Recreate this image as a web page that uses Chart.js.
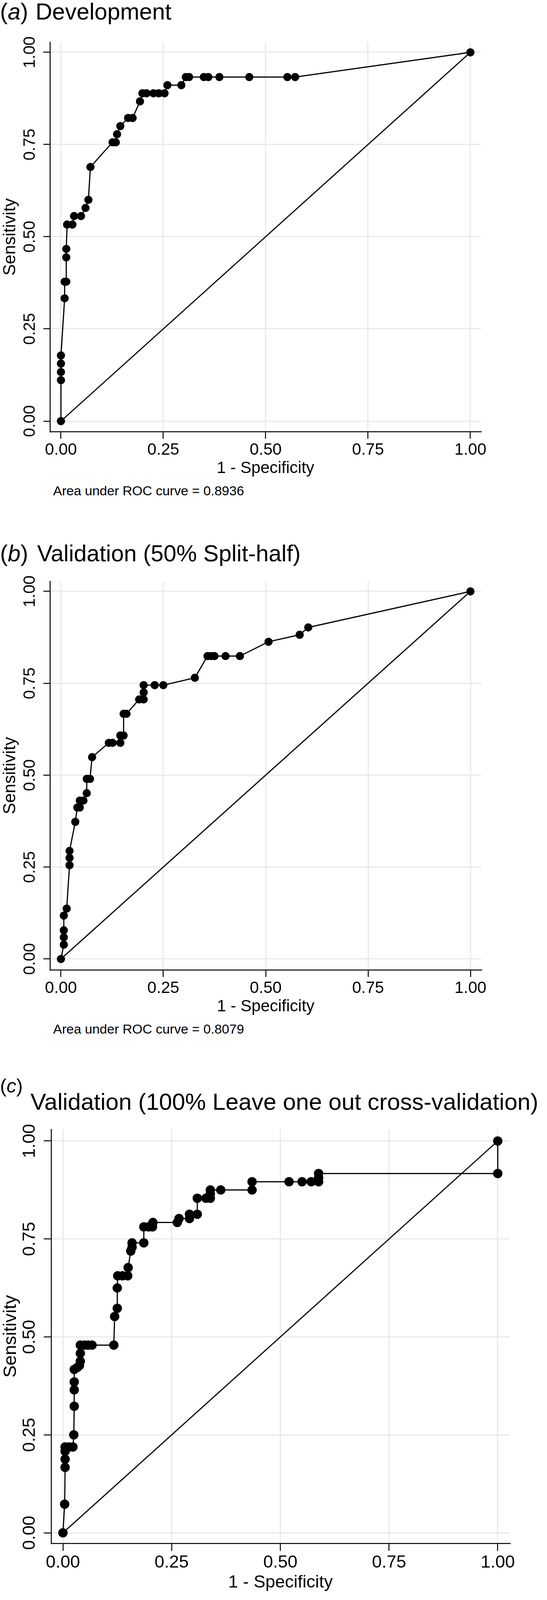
<!DOCTYPE html>
<html lang="en">
<head>
    <meta charset="UTF-8">
    <title>ROC curves</title>
    <script src="https://cdn.jsdelivr.net/npm/chart.js@4.4.1/dist/chart.umd.min.js"></script>
    <style>
        body { margin: 0; width: 1400px; height: 4170px; position: relative; background: #fff; }
        .txt { position: absolute; font-family: "Liberation Sans", Arial, Helvetica, sans-serif; color: #000; line-height: 1; white-space: nowrap; }
        canvas { position: absolute; left: 0; }
    </style>
</head>
<body>
    <!-- panel titles and AUC notes -->
    <div class="txt" style="left:0px; top:1px; font-size:59px;">(<i>a</i>)</div>
    <div class="txt" style="left:91px; top:1px; font-size:59px;">Development</div>
    <div class="txt" style="left:136px; top:1239px; font-size:34px;">Area under ROC curve = 0.8936</div>

    <div class="txt" style="left:0px; top:1388px; font-size:59px;">(<i>b</i>)</div>
    <div class="txt" style="left:95px; top:1388px; font-size:59px;">Validation (50% Split-half)</div>
    <div class="txt" style="left:136px; top:2617px; font-size:34px;">Area under ROC curve = 0.8079</div>

    <div class="txt" style="left:0px; top:2755px; font-size:50px;">(<i>c</i>)</div>
    <div class="txt" style="left:78px; top:2791px; font-size:60px;">Validation (100% Leave one out cross-validation)</div>
    <div class="txt" style="left:138px; top:4096px; font-size:37px;">Area under ROC curve = 0.8158</div>

    <canvas id="rocA"></canvas>
    <canvas id="rocB"></canvas>
    <canvas id="rocC"></canvas>

    <script>
        // axis ticks shared by all panels
        const tickVals = [0, 0.25, 0.5, 0.75, 1];
        const xTitle = '1 - Specificity';
        const yTitle = 'Sensitivity';

        // reference (chance) line
        const refX = [0, 1];
        const refY = [0, 1];

        // (a) Development
        const aFpr = [0, 0, 0, 0, 0, 0.009, 0.009, 0.013, 0.013, 0.013, 0.015, 0.028, 0.032, 0.049, 0.060, 0.067, 0.072,
            0.126, 0.134, 0.137, 0.145, 0.164, 0.175, 0.193, 0.199, 0.209, 0.226, 0.239, 0.253, 0.260, 0.294,
            0.305, 0.313, 0.349, 0.360, 0.387, 0.460, 0.553, 0.572, 1];
        const aSens = [0, 0.111, 0.133, 0.156, 0.178, 0.333, 0.378, 0.378, 0.444, 0.467, 0.533, 0.533, 0.556, 0.556, 0.578, 0.600, 0.689,
            0.756, 0.756, 0.778, 0.800, 0.822, 0.822, 0.867, 0.889, 0.889, 0.889, 0.889, 0.889, 0.911, 0.911,
            0.933, 0.933, 0.933, 0.933, 0.933, 0.933, 0.933, 0.933, 1];

        // (b) Validation (50% split-half)
        const bFpr = [0, 0.007, 0.007, 0.007, 0.007, 0.014, 0.021, 0.021, 0.021, 0.035, 0.040, 0.046, 0.046, 0.055,
            0.063, 0.063, 0.071, 0.076, 0.117, 0.126, 0.145, 0.145, 0.153, 0.153, 0.160, 0.191, 0.202, 0.202, 0.202,
            0.229, 0.250, 0.327, 0.358, 0.367, 0.375, 0.402, 0.437, 0.507, 0.583, 0.604, 1];
        const bSens = [0, 0.039, 0.059, 0.078, 0.118, 0.137, 0.255, 0.275, 0.294, 0.373, 0.412, 0.412, 0.431, 0.431,
            0.451, 0.490, 0.490, 0.549, 0.588, 0.588, 0.588, 0.608, 0.608, 0.667, 0.667, 0.706, 0.706, 0.725, 0.745,
            0.745, 0.745, 0.765, 0.824, 0.824, 0.824, 0.824, 0.824, 0.863, 0.882, 0.902, 1];

        // (c) Validation (leave one out)
        const cFpr = [0, 0.004, 0.005, 0.005, 0.005, 0.005, 0.014, 0.023, 0.025, 0.026, 0.026, 0.026, 0.026, 0.033, 0.038,
            0.040, 0.040, 0.040, 0.050, 0.058, 0.067, 0.117, 0.119, 0.125, 0.125, 0.126, 0.137, 0.149, 0.150, 0.156,
            0.159, 0.159, 0.186, 0.186, 0.197, 0.206, 0.207, 0.263, 0.267, 0.291, 0.291, 0.309, 0.309, 0.329,
            0.339, 0.339, 0.339, 0.363, 0.435, 0.435, 0.520, 0.550, 0.571, 0.588, 0.588, 0.588, 1, 1];
        const cSens = [0, 0.073, 0.167, 0.188, 0.208, 0.219, 0.219, 0.219, 0.250, 0.323, 0.365, 0.385, 0.417, 0.422, 0.427,
            0.438, 0.458, 0.479, 0.479, 0.479, 0.479, 0.479, 0.552, 0.573, 0.625, 0.656, 0.656, 0.656, 0.677, 0.719,
            0.729, 0.740, 0.740, 0.781, 0.781, 0.781, 0.792, 0.792, 0.802, 0.802, 0.813, 0.813, 0.854, 0.854,
            0.854, 0.865, 0.875, 0.875, 0.875, 0.896, 0.896, 0.896, 0.896, 0.896, 0.906, 0.917, 0.917, 1];

        const FONT = '"Liberation Sans", Arial, Helvetica, sans-serif';
        const GRID = '#e9e9e9';

        function toPoints(xs, ys) {
            return xs.map((x, i) => ({ x: x, y: ys[i] }));
        }

        // one Stata-like ROC plot per canvas
        function makePanel(id, fpr, sens, cfg) {
            const cv = document.getElementById(id);
            cv.width = 1400;
            cv.height = cfg.h;
            cv.style.top = cfg.top + 'px';
            cv.style.width = '1400px';
            cv.style.height = cfg.h + 'px';

            const labelFmt = v => Number(v).toFixed(2);

            return new Chart(cv.getContext('2d'), {
                type: 'scatter',
                data: {
                    datasets: [{
                        data: toPoints(fpr, sens),
                        showLine: true,
                        borderColor: '#000',
                        borderWidth: 3,
                        backgroundColor: '#000',
                        pointBackgroundColor: '#000',
                        pointBorderWidth: 0,
                        pointRadius: cfg.r,
                        pointHoverRadius: cfg.r
                    },
                    {
                        data: toPoints(refX, refY),
                        showLine: true,
                        borderColor: '#000',
                        borderWidth: 3,
                        pointRadius: 0,
                        pointHoverRadius: 0
                    }]
                },
                options: {
                    responsive: false,
                    animation: false,
                    devicePixelRatio: 1,
                    layout: { padding: cfg.pad },
                    plugins: {
                        legend: { display: false },
                        tooltip: { enabled: false }
                    },
                    scales: {
                        x: {
                            type: 'linear',
                            min: cfg.xr[0],
                            max: cfg.xr[1],
                            afterBuildTicks: s => { s.ticks = tickVals.map(v => ({ value: v })); },
                            afterFit: s => { s.height = cfg.xH; },
                            grid: { color: GRID, lineWidth: 3, tickColor: '#000', tickWidth: 2.5, tickLength: cfg.xTick },
                            border: { color: '#000', width: 2.5 },
                            ticks: {
                                color: '#000', padding: 4, maxRotation: 0, autoSkip: false,
                                font: { family: FONT, size: cfg.xTickFont },
                                callback: labelFmt
                            },
                            title: {
                                display: true, text: xTitle, color: '#000', padding: 0,
                                font: { family: FONT, size: cfg.xTitleFont }
                            }
                        },
                        y: {
                            type: 'linear',
                            min: cfg.yr[0],
                            max: cfg.yr[1],
                            afterBuildTicks: s => { s.ticks = tickVals.map(v => ({ value: v })); },
                            afterFit: s => { s.width = cfg.yW; },
                            grid: { color: GRID, lineWidth: 3, tickColor: '#000', tickWidth: 2.5, tickLength: cfg.yTick },
                            border: { color: '#000', width: 2.5 },
                            ticks: {
                                color: '#000', padding: cfg.yTickPad, minRotation: 90, maxRotation: 90,
                                crossAlign: 'center', autoSkip: false,
                                font: { family: FONT, size: cfg.yTickFont },
                                callback: labelFmt
                            },
                            title: {
                                display: true, text: yTitle, color: '#000', padding: 0,
                                font: { family: FONT, size: cfg.yTitleFont }
                            }
                        }
                    }
                }
            });
        }

        makePanel('rocA', aFpr, aSens, {
            top: 80, h: 1180, pad: { top: 28, bottom: 35, left: 0, right: 169 },
            yW: 128, xH: 120, xr: [-0.0267, 1.0258], yr: [-0.0286, 1.0275], r: 10.5,
            xTick: 18, yTick: 17, xTickFont: 42, xTitleFont: 42, yTickFont: 42, yTitleFont: 44, yTickPad: -7
        });

        makePanel('rocB', bFpr, bSens, {
            top: 1460, h: 1180, pad: { top: 28, bottom: 37, left: 0, right: 168 },
            yW: 128, xH: 120, xr: [-0.0267, 1.0267], yr: [-0.0298, 1.0276], r: 10.5,
            xTick: 18, yTick: 17, xTickFont: 42, xTitleFont: 42, yTickFont: 42, yTitleFont: 44, yTickPad: -7
        });

        makePanel('rocC', cFpr, cSens, {
            top: 2860, h: 1250, pad: { top: 31, bottom: 31, left: 0, right: 95 },
            yW: 131, xH: 128, xr: [-0.027, 1.0279], yr: [-0.0269, 1.0299], r: 12,
            xTick: 19, yTick: 19, xTickFont: 45, xTitleFont: 45, yTickFont: 45, yTitleFont: 47, yTickPad: -8
        });
    </script>
</body>
</html>
